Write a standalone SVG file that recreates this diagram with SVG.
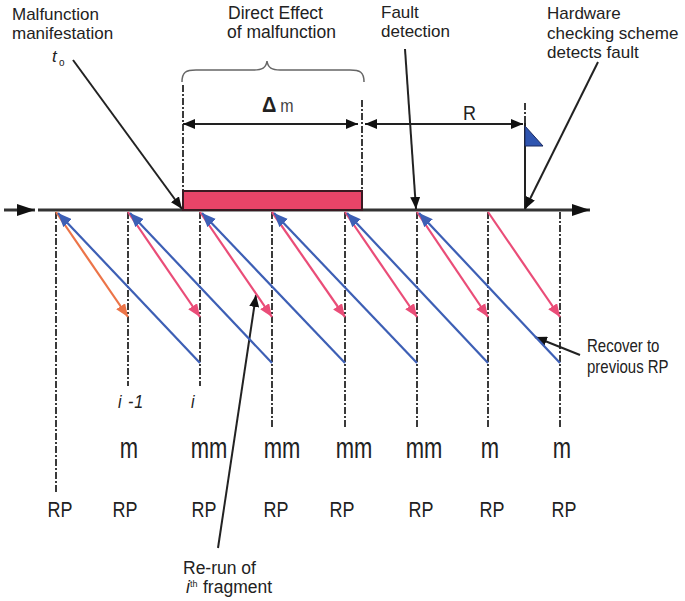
<svg xmlns="http://www.w3.org/2000/svg" width="685" height="601" viewBox="0 0 685 601">
<style>
text{font-family:"Liberation Sans",Arial,sans-serif;fill:#222}
.hd{font-size:17px}
.vl{stroke:#3a3a3a;stroke-width:2;stroke-dasharray:7 2 2 2;fill:none}
.ax{stroke:#333;stroke-width:3;fill:none}
.blk{stroke:#222;stroke-width:2;fill:none}
.pk{stroke:#ea4d78;stroke-width:2.2;fill:none}
.bl{stroke:#3d5fb5;stroke-width:2.2;fill:none}
.or{stroke:#ec7448;stroke-width:2.2;fill:none}
.mm{font-size:22px;text-anchor:middle}
.rp{font-size:18px;text-anchor:middle}
</style>
<defs>
<marker id="ak" viewBox="0 0 12 10" refX="12" refY="5" markerWidth="12" markerHeight="10" markerUnits="userSpaceOnUse" orient="auto-start-reverse"><path d="M0,0 L12,5 L0,10 z" fill="#111"/></marker>
<marker id="aa" viewBox="0 0 18 12" refX="18" refY="6" markerWidth="18" markerHeight="12" markerUnits="userSpaceOnUse" orient="auto"><path d="M0,0 L18,6 L0,12 z" fill="#111"/></marker>
<marker id="ap" viewBox="0 0 12 10" refX="12" refY="5" markerWidth="13" markerHeight="11" markerUnits="userSpaceOnUse" orient="auto"><path d="M0,0 L12,5 L0,10 z" fill="#ea4d78"/></marker>
<marker id="ab" viewBox="0 0 12 10" refX="12" refY="5" markerWidth="14" markerHeight="12" markerUnits="userSpaceOnUse" orient="auto"><path d="M0,0 L12,5 L0,10 z" fill="#3d5fb5"/></marker>
<marker id="ao" viewBox="0 0 12 10" refX="12" refY="5" markerWidth="13" markerHeight="11" markerUnits="userSpaceOnUse" orient="auto"><path d="M0,0 L12,5 L0,10 z" fill="#ec7448"/></marker>
</defs>

<g id="rp-lines">
<line class="vl" x1="56" y1="212" x2="56" y2="492"/>
<line class="vl" x1="128" y1="212" x2="128" y2="386"/>
<line class="vl" x1="200" y1="212" x2="200" y2="386"/>
<line class="vl" x1="272" y1="212" x2="272" y2="428"/>
<line class="vl" x1="345" y1="212" x2="345" y2="428"/>
<line class="vl" x1="417" y1="212" x2="417" y2="428"/>
<line class="vl" x1="488" y1="212" x2="488" y2="428"/>
<line class="vl" x1="560" y1="212" x2="560" y2="428"/>
<line class="vl" x1="183" y1="85" x2="183" y2="190"/>
<line class="vl" x1="362" y1="100" x2="362" y2="190"/>
<line class="vl" x1="525" y1="103" x2="525" y2="123" stroke-dasharray="2 2"/>
<line x1="525" y1="123" x2="525" y2="210" stroke="#222" stroke-width="2"/>
</g>

<g id="axis">
<line class="ax" x1="4" y1="210" x2="35" y2="210" marker-end="url(#aa)"/>
<line class="ax" x1="38" y1="210" x2="590" y2="210" marker-end="url(#aa)"/>
</g>

<g id="effect-bar">
<rect x="183" y="191" width="179" height="19" fill="#e84468" stroke="#3a1a22" stroke-width="2"/>
</g>

<g id="brace">
<path d="M182,82 C182,72 186,70 196,70 L254,70 C262,70 266,68 267,61 C268,68 272,70 280,70 L350,70 C360,70 364,72 364,82" fill="none" stroke="#666" stroke-width="1.5"/>
</g>

<g id="flag">
<polygon points="525,126 525,146 543,146" fill="#2f55b0" stroke="#1a2a60" stroke-width="1"/>
</g>

<g id="connectors">
<line class="blk" x1="183" y1="124" x2="358" y2="124" marker-start="url(#ak)" marker-end="url(#ak)"/>
<line class="blk" x1="365" y1="124" x2="523" y2="124" marker-start="url(#ak)" marker-end="url(#ak)"/>
<line class="blk" x1="73" y1="60" x2="182" y2="209" marker-end="url(#ak)"/>
<line class="blk" x1="405" y1="49" x2="416" y2="209" marker-end="url(#ak)"/>
<line class="blk" x1="598" y1="62" x2="525" y2="209" marker-end="url(#ak)"/>
<line class="blk" x1="218" y1="548" x2="256" y2="295" marker-end="url(#ak)"/>
<line class="blk" x1="580" y1="355" x2="535" y2="337" marker-end="url(#ak)"/>

<line class="or" x1="56" y1="212" x2="128" y2="317" marker-end="url(#ao)"/>
<line class="pk" x1="128" y1="212" x2="200" y2="317" marker-end="url(#ap)"/>
<line class="pk" x1="200" y1="212" x2="272" y2="317" marker-end="url(#ap)"/>
<line class="pk" x1="272" y1="212" x2="345" y2="317" marker-end="url(#ap)"/>
<line class="pk" x1="345" y1="212" x2="417" y2="317" marker-end="url(#ap)"/>
<line class="pk" x1="417" y1="212" x2="488" y2="317" marker-end="url(#ap)"/>
<line class="pk" x1="488" y1="212" x2="560" y2="317" marker-end="url(#ap)"/>

<line class="bl" x1="200" y1="363" x2="58" y2="213" marker-end="url(#ab)"/>
<line class="bl" x1="272" y1="363" x2="130" y2="213" marker-end="url(#ab)"/>
<line class="bl" x1="345" y1="363" x2="202" y2="213" marker-end="url(#ab)"/>
<line class="bl" x1="417" y1="363" x2="274" y2="213" marker-end="url(#ab)"/>
<line class="bl" x1="488" y1="363" x2="347" y2="213" marker-end="url(#ab)"/>
<line class="bl" x1="560" y1="363" x2="419" y2="213" marker-end="url(#ab)"/>
</g>

<g id="labels">
<text class="hd" x="12" y="19.5">Malfunction</text>
<text class="hd" x="12" y="39">manifestation</text>
<text font-size="17" font-style="italic" x="52" y="62">t</text>
<text font-size="10" x="59" y="66">o</text>
<text font-size="17.5" x="228" y="18.5">Direct Effect</text>
<text font-size="17.5" x="227" y="38">of malfunction</text>
<text class="hd" x="381" y="18">Fault</text>
<text class="hd" x="381" y="37">detection</text>
<text class="hd" x="547" y="19">Hardware</text>
<text class="hd" x="547" y="38.5">checking scheme</text>
<text class="hd" x="547" y="58">detects fault</text>
<text transform="translate(262,112) scale(1,1.1)"><tspan font-size="20" font-weight="bold">Δ</tspan><tspan font-size="16" fill="#444" dx="4">m</tspan></text>
<text font-size="18" transform="translate(463,120) scale(1,1.1)">R</text>
<text font-size="15" transform="translate(587,352) scale(1,1.2)">Recover to</text>
<text font-size="15" transform="translate(587,373) scale(1,1.2)">previous RP</text>
<text font-size="16" font-style="italic" letter-spacing="1" transform="translate(118,408) scale(1,1.2)">i -1</text>
<text font-size="16" font-style="italic" transform="translate(191,408) scale(1,1.2)">i</text>
<text font-size="17.5" x="183" y="574">Re-run of</text>
<text font-size="17.5" x="186" y="593"><tspan font-style="italic">i</tspan><tspan font-size="9" dy="-6">th</tspan><tspan x="203" dy="6">fragment</tspan></text>

<g transform="translate(0,458)">
<text class="mm" transform="translate(129,0) scale(1,1.35)">m</text>
<text class="mm" transform="translate(209,0) scale(1,1.35)">mm</text>
<text class="mm" transform="translate(282,0) scale(1,1.35)">mm</text>
<text class="mm" transform="translate(354,0) scale(1,1.35)">mm</text>
<text class="mm" transform="translate(424,0) scale(1,1.35)">mm</text>
<text class="mm" transform="translate(490,0) scale(1,1.35)">m</text>
<text class="mm" transform="translate(562,0) scale(1,1.35)">m</text>
</g>
<g transform="translate(0,517)">
<text class="rp" transform="translate(60,0) scale(1,1.2)">RP</text>
<text class="rp" transform="translate(125,0) scale(1,1.2)">RP</text>
<text class="rp" transform="translate(204,0) scale(1,1.2)">RP</text>
<text class="rp" transform="translate(276,0) scale(1,1.2)">RP</text>
<text class="rp" transform="translate(342,0) scale(1,1.2)">RP</text>
<text class="rp" transform="translate(421,0) scale(1,1.2)">RP</text>
<text class="rp" transform="translate(492,0) scale(1,1.2)">RP</text>
<text class="rp" transform="translate(564,0) scale(1,1.2)">RP</text>
</g>
</g>
</svg>
